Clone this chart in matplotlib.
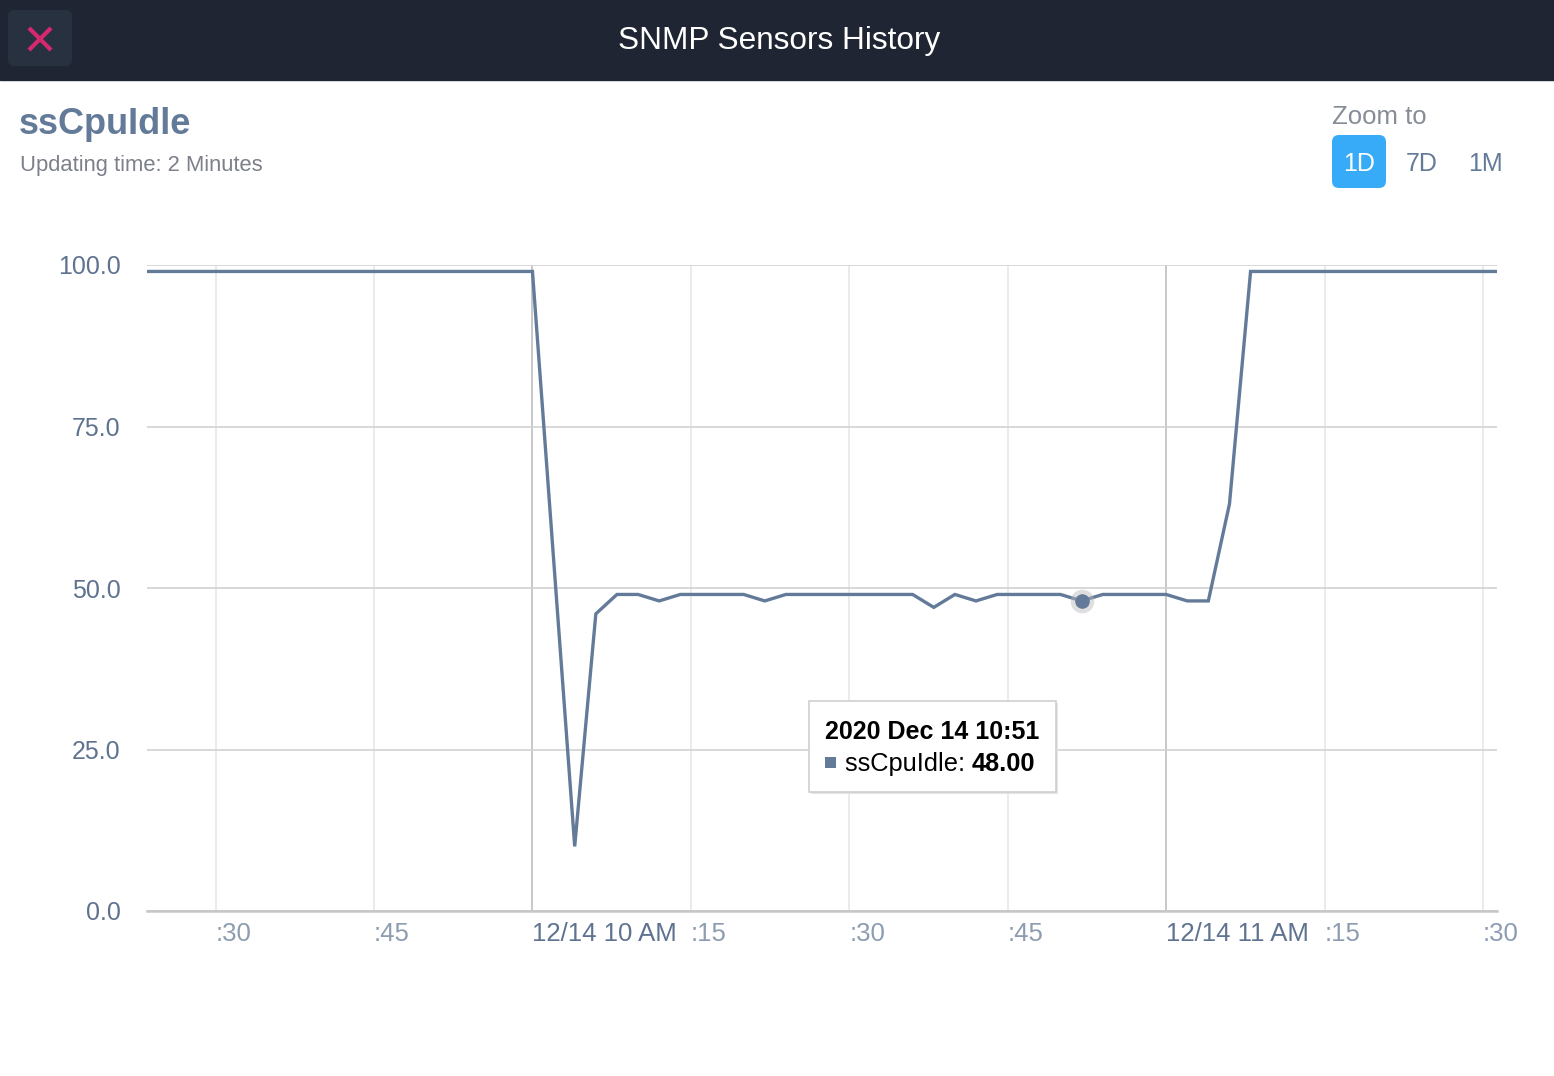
import pandas as pd
import matplotlib
matplotlib.use('Agg')
import matplotlib.pyplot as plt
from matplotlib.patches import FancyBboxPatch, Rectangle

plt.rcParams['font.family'] = ['Liberation Sans', 'DejaVu Sans']

# Data (line vertices)
times = ['09:23:30', '10:00', '10:04', '10:06', '10:08', '10:10', '10:12', '10:14',
         '10:20', '10:22', '10:24', '10:36', '10:38', '10:40', '10:42', '10:44',
         '10:50', '10:52', '10:54', '11:00', '11:02', '11:04', '11:06', '11:08',
         '11:31:20']
values = [99, 99, 10, 46, 49, 49, 48, 49,
          49, 48, 49, 49, 47, 49, 48, 49,
          49, 48, 49, 49, 48, 48, 63, 99,
          99]
x_ticks = ['09:30', '09:45', '10:00', '10:15', '10:30', '10:45', '11:00', '11:15', '11:30']
x_labels = [':30', ':45', '12/14 10 AM', ':15', ':30', ':45', '12/14 11 AM', ':15', ':30']
y_ticks = [0, 25, 50, 75, 100]
hover_time = '10:52'
hover_value = 48
hover_label = '2020 Dec 14 10:51'
series_name = 'ssCpuIdle'

day = '2020-12-14 '
t = pd.to_datetime([day + s for s in times], format='mixed')
tx = pd.to_datetime([day + s for s in x_ticks], format='mixed')

W, H = 1554, 1076
fig = plt.figure(figsize=(W / 100, H / 100), dpi=100)
fig.patch.set_facecolor('white')

LINE = '#637b99'
SLATE = '#5f7390'

# background overlay in pixel units
bg = fig.add_axes([0, 0, 1, 1], zorder=0)
bg.set_xlim(0, W)
bg.set_ylim(H, 0)
bg.axis('off')
bg.add_patch(Rectangle((0, 0), W, 80, color='#1f2532'))
bg.add_patch(FancyBboxPatch((8, 10), 64, 56, boxstyle='round,pad=0,rounding_size=6',
                            color='#283140', lw=0))
bg.plot([29, 51], [28, 50], color='#d6286e', lw=3, solid_capstyle='butt')
bg.plot([29, 51], [50, 28], color='#d6286e', lw=3, solid_capstyle='butt')
bg.text(779, 41, 'SNMP Sensors History', color='white', fontsize=22.7,
        ha='center', va='center')
bg.text(19, 124, series_name, color=LINE, fontsize=26, fontweight='bold',
        ha='left', va='center')
bg.text(20, 166, 'Updating time: 2 Minutes', color='#7b8089', fontsize=15.8,
        ha='left', va='center')
bg.text(1332, 117, 'Zoom to', color='#868d97', fontsize=18.5, ha='left', va='center')
bg.add_patch(FancyBboxPatch((1332, 135), 54, 53, boxstyle='round,pad=0,rounding_size=7',
                            color='#38abf8', lw=0))
bg.text(1359, 164, '1D', color='white', fontsize=18, ha='center', va='center')
bg.text(1422, 164, '7D', color=LINE, fontsize=18, ha='center', va='center')
bg.text(1485, 164, '1M', color=LINE, fontsize=18, ha='center', va='center')

# main chart
ax = fig.add_axes([147 / W, 1 - 911 / H, 1350 / W, 646 / H], zorder=1)
ax.patch.set_alpha(0)
ax.plot(t, values, color=LINE, lw=2.4, solid_joinstyle='miter', zorder=3)
hv = pd.to_datetime(day + hover_time)
ax.plot([hv], [hover_value], 'o', ms=17, color='#b8b8b8', alpha=0.45, mec='none', zorder=4)
ax.plot([hv], [hover_value], 'o', ms=10.5, color=LINE, mec='none', zorder=5)

ax.set_xlim(t[0], t[-1])
ax.set_ylim(0, 100)
ax.set_yticks(y_ticks)
ax.set_yticklabels(['%.1f' % v for v in y_ticks])
ax.set_xticks(tx)
ax.set_xticklabels(x_labels)
ax.tick_params(axis='both', length=0)
ax.tick_params(axis='y', pad=19, labelsize=18, labelcolor=SLATE)
ax.tick_params(axis='x', pad=8, labelsize=18.5)
for lab, txt in zip(ax.get_xticklabels(), x_labels):
    lab.set_horizontalalignment('left')
    lab.set_color(SLATE if 'AM' in txt else '#8d9cb0')

ax.grid(axis='y', color='#d2d2d2', lw=1.2)
ax.grid(axis='x', color='#e6e6e6', lw=1.1)
for gl, txt in zip(ax.xaxis.get_gridlines(), x_labels):
    if 'AM' in txt:
        gl.set_color('#c8c8c8')
        gl.set_linewidth(1.4)
ax.set_axisbelow(True)
for s in ['top', 'right', 'left']:
    ax.spines[s].set_visible(False)
ax.spines['bottom'].set_color('#c6c6c6')
ax.spines['bottom'].set_linewidth(1.8)

# tooltip overlay
fg = fig.add_axes([0, 0, 1, 1], zorder=5)
fg.set_xlim(0, W)
fg.set_ylim(H, 0)
fg.axis('off')
fg.patch.set_alpha(0)
fg.add_patch(Rectangle((811, 703), 247, 91, color='#e4e4e4', lw=0))
fg.add_patch(Rectangle((809, 701), 247, 91, facecolor='white', edgecolor='#cfcfcf', lw=1.2))
fg.text(825, 732, hover_label, fontsize=18, fontweight='bold', color='black',
        ha='left', va='center')
fg.add_patch(Rectangle((825, 757), 11, 11, color=LINE, lw=0))
name_txt = fg.text(845, 764, series_name + ': ', fontsize=18.3, color='black',
                   ha='left', va='center')
fig.canvas.draw()
x_end = name_txt.get_window_extent().x1
fg.text(x_end, 764, '%.2f' % hover_value, fontsize=18.3, fontweight='bold', color='black',
        ha='left', va='center')

fig.savefig('out.png', dpi=100, facecolor='white')
